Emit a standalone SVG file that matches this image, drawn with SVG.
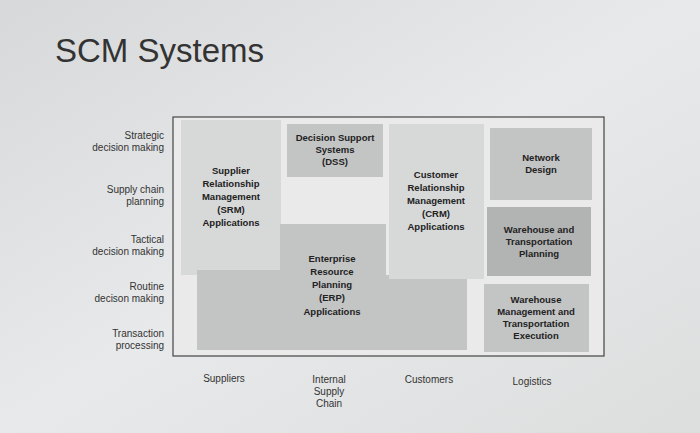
<svg xmlns="http://www.w3.org/2000/svg" width="700" height="433" viewBox="0 0 700 433">
<defs>
<linearGradient id="bg" x1="0" y1="0" x2="1" y2="1"><stop offset="0" stop-color="#d6d8d9"/><stop offset="0.5" stop-color="#e8e9ea"/><stop offset="1" stop-color="#dcdddd"/></linearGradient>
</defs>
<style>
.lbl{font-family:"Liberation Sans",Arial,sans-serif;font-size:10px;fill:#333;text-anchor:end}
.ax{font-family:"Liberation Sans",Arial,sans-serif;font-size:10px;fill:#333;text-anchor:middle}
.b{font-family:"Liberation Sans",Arial,sans-serif;font-size:9.5px;font-weight:bold;fill:#222;text-anchor:middle}
.l{fill:#d7d8d8}.m{fill:#c3c4c4}.d{fill:#b2b3b3}
</style>
<rect width="700" height="433" fill="url(#bg)"/>
<text x="55" y="62" font-family="Liberation Sans,Arial,sans-serif" font-size="33" fill="#333">SCM Systems</text>
<rect x="173" y="117" width="431" height="239" fill="#eaeaea" stroke="#444" stroke-width="1.2"/>
<g class="lbl">
<text x="164" y="139">Strategic</text><text x="164" y="151">decision making</text>
<text x="164" y="193">Supply chain</text><text x="164" y="205">planning</text>
<text x="164" y="243">Tactical</text><text x="164" y="255">decision making</text>
<text x="164" y="290">Routine</text><text x="164" y="302">decison making</text>
<text x="164" y="337">Transaction</text><text x="164" y="349">processing</text>
</g>
<g id="srm"><rect class="l" x="181" y="120" width="100" height="155"/>
<text class="b"><tspan x="231" y="174">Supplier</tspan><tspan x="231" y="187">Relationship</tspan><tspan x="231" y="200">Management</tspan><tspan x="231" y="213">(SRM)</tspan><tspan x="231" y="226">Applications</tspan></text></g>
<g id="erp"><path class="m" d="M280 224H386V275H467V350H197V270H280Z"/>
<text class="b"><tspan x="332" y="262">Enterprise</tspan><tspan x="332" y="275">Resource</tspan><tspan x="332" y="288">Planning</tspan><tspan x="332" y="301">(ERP)</tspan><tspan x="332" y="315">Applications</tspan></text></g>
<g id="dss"><rect class="m" x="287" y="124" width="96" height="53"/>
<text class="b"><tspan x="335" y="141">Decision Support</tspan><tspan x="335" y="153">Systems</tspan><tspan x="335" y="165">(DSS)</tspan></text></g>
<g id="crm"><rect class="l" x="389" y="124" width="95" height="155"/>
<text class="b"><tspan x="436" y="178">Customer</tspan><tspan x="436" y="191">Relationship</tspan><tspan x="436" y="204">Management</tspan><tspan x="436" y="217">(CRM)</tspan><tspan x="436" y="230">Applications</tspan></text></g>
<g id="net"><rect class="m" x="490" y="128" width="102" height="72"/>
<text class="b"><tspan x="541" y="161">Network</tspan><tspan x="541" y="173">Design</tspan></text></g>
<g id="wtp"><rect class="d" x="487" y="207" width="104" height="69"/>
<text class="b"><tspan x="539" y="233">Warehouse and</tspan><tspan x="539" y="245">Transportation</tspan><tspan x="539" y="257">Planning</tspan></text></g>
<g id="wm"><rect class="m" x="484" y="284" width="105" height="68"/>
<text class="b"><tspan x="536" y="303">Warehouse</tspan><tspan x="536" y="315">Management and</tspan><tspan x="536" y="327">Transportation</tspan><tspan x="536" y="339">Execution</tspan></text></g>
<g class="ax">
<text x="224" y="382">Suppliers</text>
<text x="329" y="383">Internal</text><text x="329" y="395">Supply</text><text x="329" y="407">Chain</text>
<text x="429" y="383">Customers</text>
<text x="532" y="385">Logistics</text>
</g>
</svg>
